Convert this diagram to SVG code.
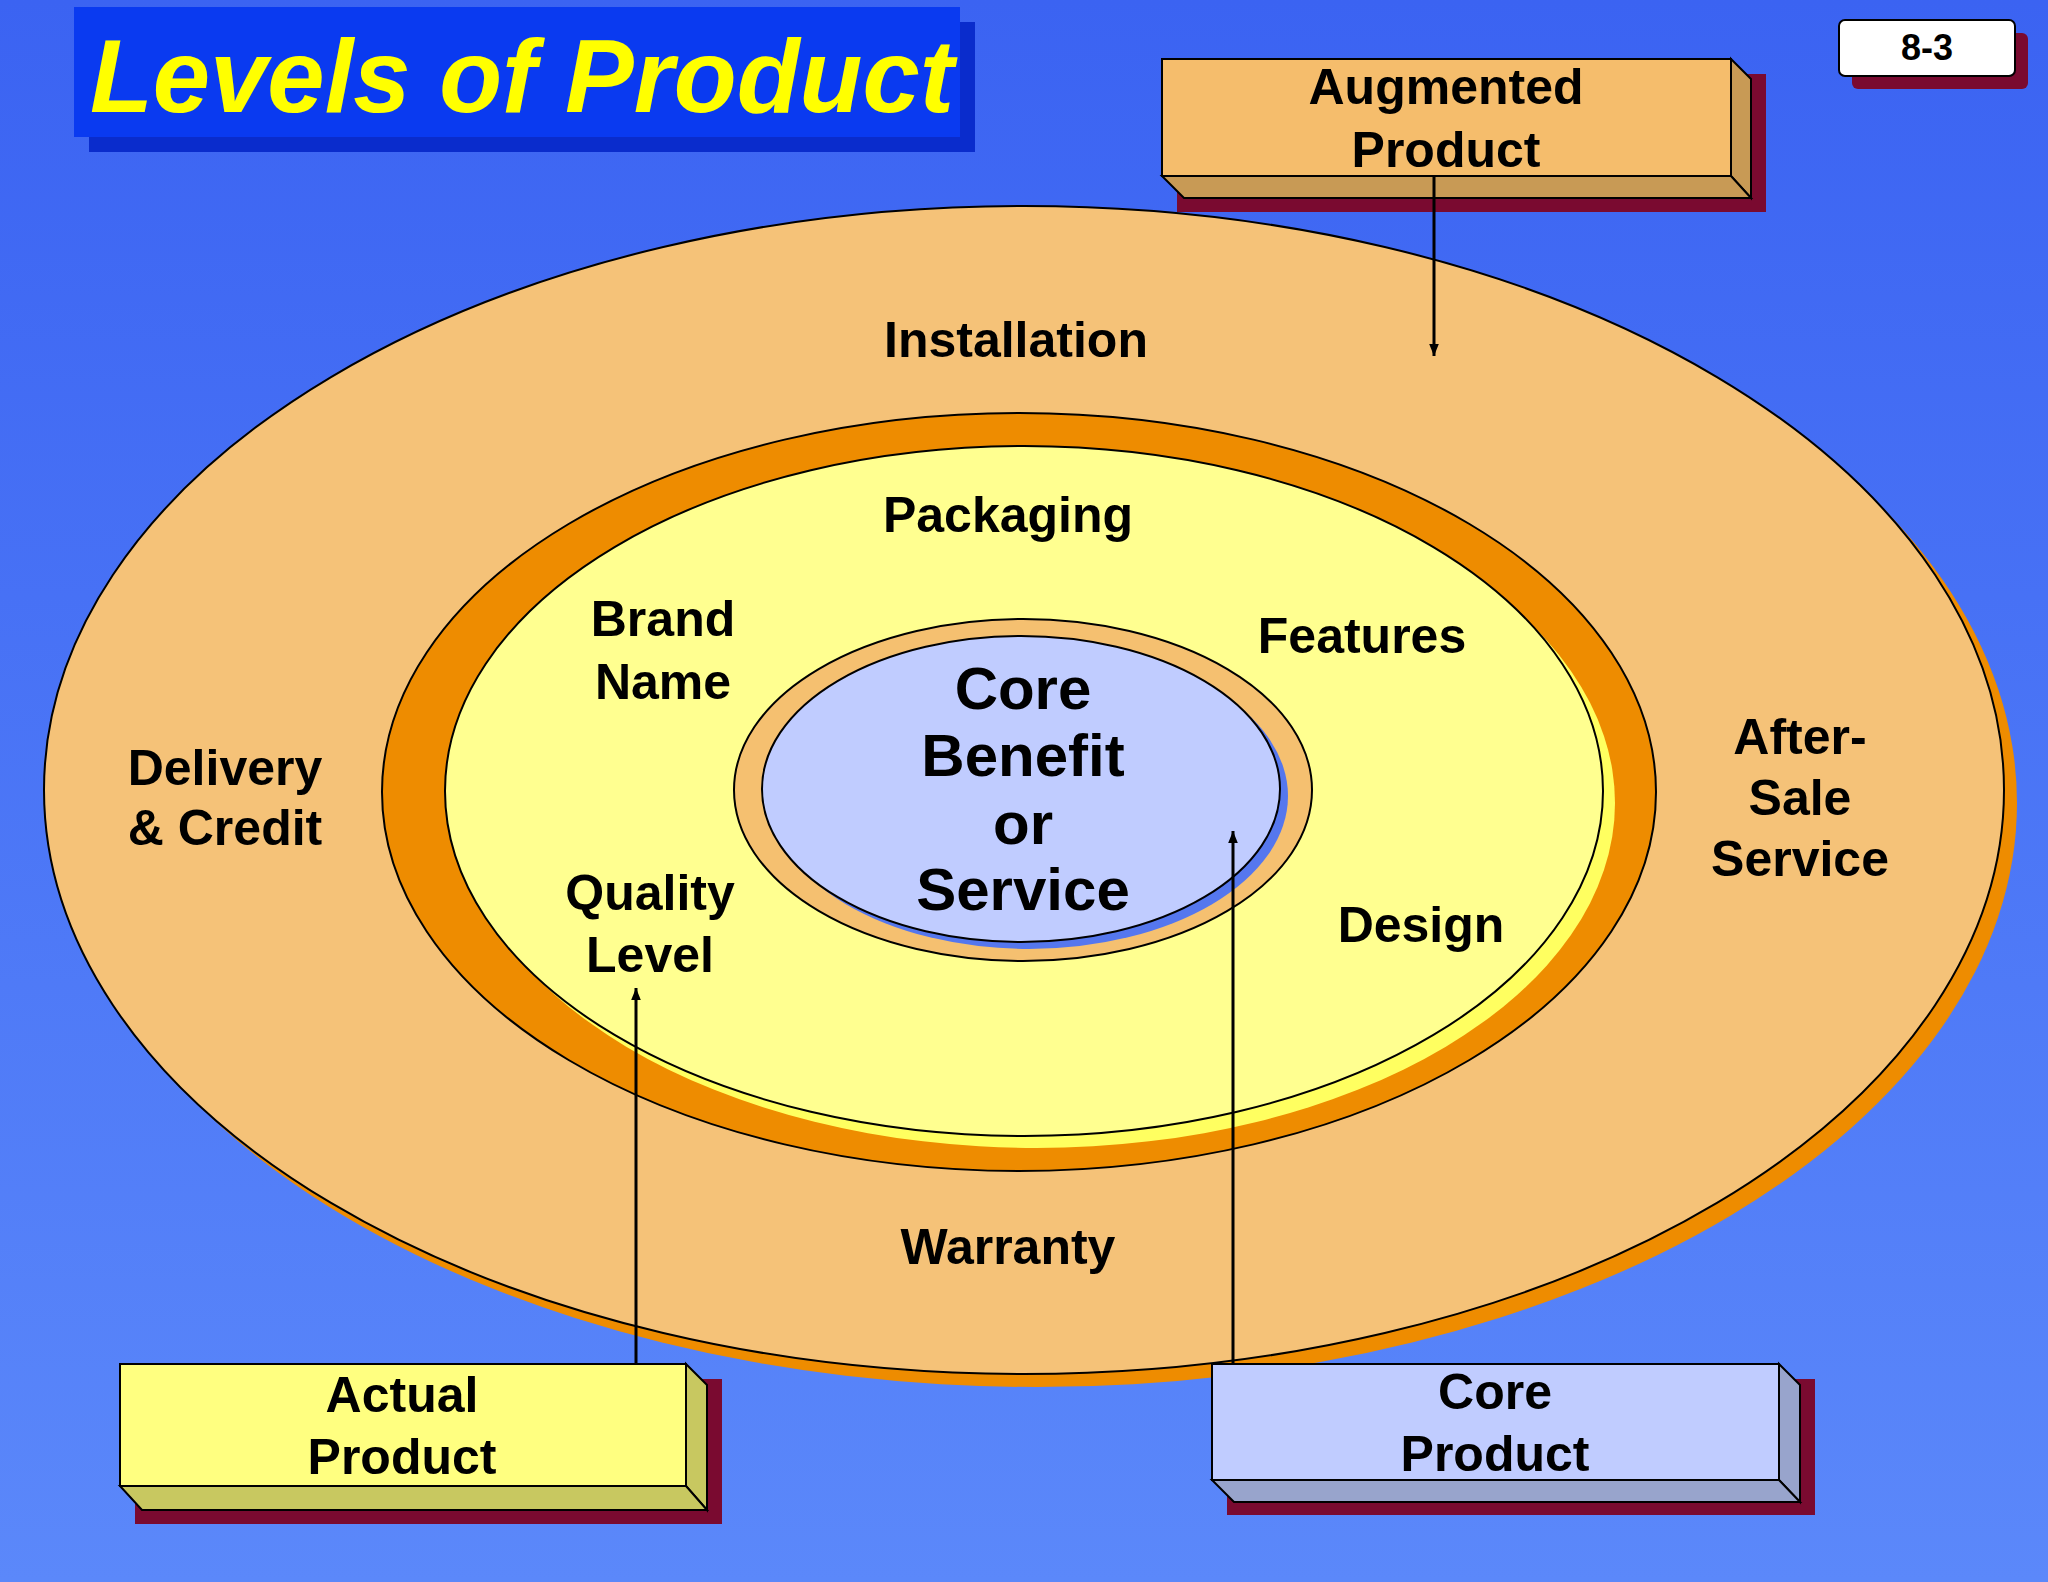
<svg xmlns="http://www.w3.org/2000/svg" width="2048" height="1582" viewBox="0 0 2048 1582">
<defs>
<linearGradient id="bg" x1="0" y1="0" x2="0" y2="1"><stop offset="0" stop-color="#3b63f2"/><stop offset="1" stop-color="#5b88fa"/></linearGradient>
<marker id="arr" viewBox="0 0 10 10" refX="10" refY="5" markerWidth="14" markerHeight="12" orient="auto" markerUnits="userSpaceOnUse"><path d="M0,1 L10,5 L0,9 Z" fill="#000"/></marker>
</defs>
<style>
text{font-family:"Liberation Sans",Arial,sans-serif;font-weight:bold;fill:#000;text-anchor:middle;font-size:50px}
.big{font-size:60px}
.edge{stroke:#000;stroke-width:2}
.sh{fill:#7a0a30}
line{stroke:#000;stroke-width:3;marker-end:url(#arr)}
</style>
<rect width="2048" height="1582" fill="url(#bg)"/>
<g id="title">
<rect x="89" y="22" width="886" height="130" fill="#0a2ccc"/>
<rect x="74" y="7" width="886" height="130" fill="#0a3af0"/>
<text x="522" y="112" style="font-size:103px;font-style:italic;fill:#ffff00">Levels of Product</text>
</g>
<g id="page">
<rect x="1852" y="33" width="176" height="56" rx="6" class="sh"/>
<rect x="1839" y="20" width="176" height="56" rx="6" fill="#fff" class="edge"/>
<text x="1927" y="60" style="font-size:36px">8-3</text>
</g>
<g id="rings">
<ellipse cx="1037" cy="803" rx="980" ry="584" fill="#ee8c00"/>
<ellipse cx="1024" cy="790" rx="980" ry="584" fill="#f5c278" class="edge"/>
<ellipse cx="1019" cy="792" rx="637" ry="379" fill="#ee8c00" class="edge"/>
<ellipse cx="1036" cy="803" rx="579" ry="345" fill="#ffff60"/>
<ellipse cx="1024" cy="791" rx="579" ry="345" fill="#ffff90" class="edge"/>
<ellipse cx="1023" cy="790" rx="289" ry="171" fill="#f5c070" class="edge"/>
<ellipse cx="1029" cy="796" rx="259" ry="153" fill="#5577ee"/>
<ellipse cx="1021" cy="789" rx="259" ry="153" fill="#c0ccff" class="edge"/>
</g>
<g id="labels">
<text x="1016" y="357">Installation</text>
<text x="1008" y="532">Packaging</text>
<text x="663" y="636">Brand</text><text x="663" y="699">Name</text>
<text x="1362" y="653">Features</text>
<text class="big" x="1023" y="709">Core</text><text class="big" x="1023" y="776">Benefit</text><text class="big" x="1023" y="844">or</text><text class="big" x="1023" y="910">Service</text>
<text x="225" y="785">Delivery</text><text x="225" y="845">&amp; Credit</text>
<text x="1800" y="754">After-</text><text x="1800" y="815">Sale</text><text x="1800" y="876">Service</text>
<text x="650" y="910">Quality</text><text x="650" y="972">Level</text>
<text x="1421" y="942">Design</text>
<text x="1008" y="1264">Warranty</text>
</g>
<g id="augmented">
<rect x="1177" y="74" width="589" height="138" class="sh"/>
<polygon points="1731,59 1751,79 1751,198 1731,176" fill="#c89a55" class="edge"/>
<polygon points="1162,176 1731,176 1751,198 1184,198" fill="#c89a55" class="edge"/>
<rect x="1162" y="59" width="569" height="117" fill="#f5bd6c" class="edge"/>
<text x="1446" y="104">Augmented</text><text x="1446" y="167">Product</text>
</g>
<g id="actual">
<rect x="135" y="1379" width="587" height="145" class="sh"/>
<polygon points="686,1364 707,1385 707,1510 686,1486" fill="#c8c860" class="edge"/>
<polygon points="120,1486 686,1486 707,1510 142,1510" fill="#c8c860" class="edge"/>
<rect x="120" y="1364" width="566" height="122" fill="#ffff80" class="edge"/>
<text x="402" y="1412">Actual</text><text x="402" y="1474">Product</text>
</g>
<g id="coreproduct">
<rect x="1227" y="1379" width="588" height="136" class="sh"/>
<polygon points="1779,1364 1800,1385 1800,1502 1779,1480" fill="#98a4cc" class="edge"/>
<polygon points="1212,1480 1779,1480 1800,1502 1234,1502" fill="#98a4cc" class="edge"/>
<rect x="1212" y="1364" width="567" height="116" fill="#c0ccff" class="edge"/>
<text x="1495" y="1409">Core</text><text x="1495" y="1471">Product</text>
</g>
<g id="connectors">
<line x1="1434" y1="176" x2="1434" y2="356"/>
<line x1="636" y1="1365" x2="636" y2="988"/>
<line x1="1233" y1="1365" x2="1233" y2="831"/>
</g>
</svg>
